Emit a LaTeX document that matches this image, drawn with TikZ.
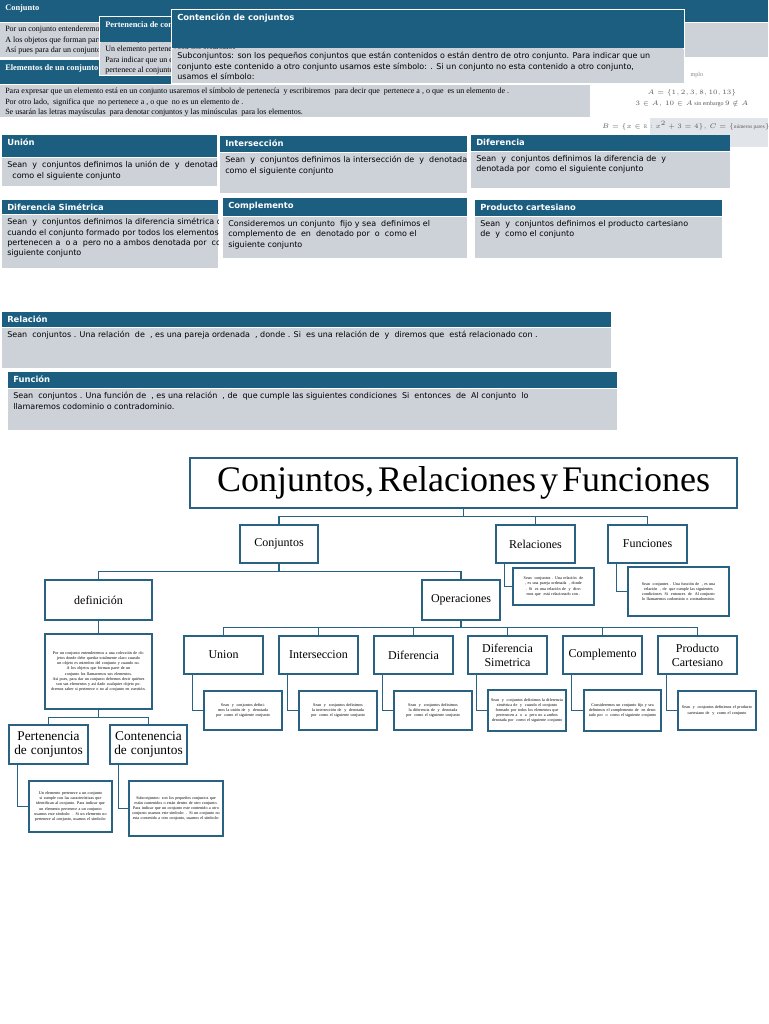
\documentclass[tikz,border=0pt]{standalone}
\usepackage{amssymb}
\usepackage{fontspec}
\setmainfont{Liberation Serif}
\newfontfamily\dv{DejaVu Sans}
\definecolor{hdr}{HTML}{1B5E80}
\definecolor{bodyc}{HTML}{CDD2D9}
\definecolor{bordc}{HTML}{2A6283}
\newcommand\panel[8]{%
 \fill[hdr] (#1,#2) rectangle (#3,#4);
 \fill[bodyc] (#1,#4+1) rectangle (#3,#5);
 \begin{scope}\clip (#1,#2) rectangle (#3,#5);
 \node[anchor=north west,text=white,inner sep=0pt,font=#8\fontsize{6.3}{8}\selectfont\bfseries] at (#1+5,#2+4) {#6};
 \node[anchor=north west,align=left,inner sep=0pt,font=#8\fontsize{6}{7.8}\selectfont] at (#1+5,#4+4) {#7};
 \end{scope}}
\newcommand\bx[7]{\pgfmathsetmacro\bw{(#4-#2)*0.75}\pgfmathsetmacro\bh{(#5-#3)*0.75}\pgfmathsetmacro\tw{(#4-#2)*0.75-4}%
 \node[#7,minimum width=\bw pt,minimum height=\bh pt,text width=\tw pt] (#1) at ({(#2+#4)/2},{(#3+#5)/2}) {#6};}
\tikzset{box/.style={draw=bordc,line width=1.1pt,fill=white,align=center,inner sep=1pt,font=\fontsize{9}{10.5}\selectfont},
 tbox/.style={box,font=\fontsize{3.1}{3.8}\selectfont},
 conn/.style={draw=bordc,line width=1pt}}
\begin{document}
\begin{tikzpicture}[x=0.75pt,y=-0.75pt]
\useasboundingbox (0,0) rectangle (768,1024);
% ---- top panels
\panel{0}{0}{768}{22}{57}{Conjunto}{Por un conjunto entenderemos a una colección de objetos donde debe quedar totalmente claro cuando un objeto es miembro del conjunto y cuando no.\\A los objetos que forman parte de un conjunto los llamaremos sus elementos.\\Así pues para dar un conjunto debemos decir quiénes son sus elementos.}{}
\panel{0}{60}{590}{84}{117}{Elementos de un conjunto}{Para expresar que un elemento está en un conjunto usaremos el símbolo de pertenecía\ \ y escribiremos\ \ para decir que\ \ pertenece a , o que\ \ es un elemento de .\\Por otro lado,\ \ significa que\ \ no pertenece a , o que\ \ no es un elemento de .\\Se usarán las letras mayúsculas\ \ para denotar conjuntos y las minúsculas\ \ para los elementos.}{}
\draw[white,line width=1pt] (100,17) rectangle (175,75);
\panel{100}{17}{175}{42}{75}{Pertenencia de conjuntos}{Un elemento pertenece a un conjunto si cumple con las características\\Para indicar que un elemento pertenece a un conjunto usamos\\pertenece al conjunto, usamos el símbolo}{}
\draw[white,line width=1.2pt] (172,10) rectangle (684,83);
\panel{172}{10}{684}{48}{83}{Contención de conjuntos}{Subconjuntos: son los pequeños conjuntos que están contenidos o están dentro de otro conjunto. Para indicar que un\\conjunto este contenido a otro conjunto usamos este símbolo: . Si un conjunto no esta contenido a otro conjunto,\\usamos el símbolo:}{\dv\fontsize{5.9}{7.8}\selectfont}
\fill[bodyc!60] (650,118) rectangle (768,147);
\node[anchor=north west,font=\fontsize{4.5}{6}\selectfont,text=gray] (ej) at (686,68) {mplo};
\node[font=\fontsize{4.5}{7}\selectfont,text=gray!70!black,align=center] (m1) at (692,98) {$A=\{1,2,3,8,10,13\}$\\[1pt] $3\in A,\ 10\in A$ sin embargo $9\notin A$};
\panel{2}{135}{217}{157}{186}{Unión}{Sean\ \ y\ \ conjuntos definimos la unión de\ \ y\ \ denotada por\\\ \ como el siguiente conjunto}{\dv\fontsize{5.6}{7.5}\selectfont}
\panel{220}{136}{467}{152}{193}{Intersección}{Sean\ \ y\ \ conjuntos definimos la intersección de\ \ y\ \ denotada por\\como el siguiente conjunto}{\dv\fontsize{5.6}{7.5}\selectfont}
\panel{471}{135}{730}{151}{188}{Diferencia}{Sean\ \ y\ \ conjuntos definimos la diferencia de\ \ y\\denotada por\ \ como el siguiente conjunto}{\dv}
\node[font=\fontsize{4}{5}\selectfont,text=gray!70!black,inner sep=0pt] (m2) at (686,126) {$B=\{x\in\mathbb{R}: x^2+3=4\},\ C=\{\mbox{números pares}\}$};
\panel{2}{200}{218}{214}{268}{Diferencia Simétrica}{Sean\ \ y\ \ conjuntos definimos la diferencia simétrica de\ \ y\\cuando el conjunto formado por todos los elementos que\\pertenecen a\ \ o a\ \ pero no a ambos denotada por\ \ como el\\siguiente conjunto}{\dv\fontsize{5.5}{7.5}\selectfont}
\panel{223}{198}{467}{216}{258}{Complemento}{Consideremos un conjunto\ \ fijo y sea\ \ definimos el\\complemento de\ \ en\ \ denotado por\ \ o\ \ como el\\siguiente conjunto}{\dv}
\panel{475}{200}{722}{216}{258}{Producto cartesiano}{Sean\ \ y\ \ conjuntos definimos el producto cartesiano\\de\ \ y\ \ como el conjunto}{\dv}
\panel{2}{312}{611}{327}{368}{Relación}{Sean\ \ conjuntos . Una relación\ \ de\ \ , es una pareja ordenada\ \ , donde . Si\ \ es una relación de\ \ y\ \ diremos que\ \ está relacionado con .}{\dv}
\panel{8}{372}{617}{388}{430}{Función}{Sean\ \ conjuntos . Una función de\ \ , es una relación\ \ , de\ \ que cumple las siguientes condiciones\ \ Si\ \ entonces\ \ de\ \ Al conjunto\ \ lo\\llamaremos codominio o contradominio.}{\dv}
% ---- concept map
\bx{title}{190}{458}{737}{508}{\fontsize{27}{30}\selectfont Conjuntos, Relaciones y Funciones}{box,line width=0.8pt}
\bx{conj}{240}{525}{318}{563}{Conjuntos}{box}
\bx{rel}{496}{525}{575}{563}{Relaciones}{box}
\bx{fun}{608}{525}{687}{563}{Funciones}{box}
\bx{defi}{45}{580}{152}{620}{definición}{box}
\bx{oper}{422}{580}{500}{620}{Operaciones}{box}
\bx{relt}{513}{568}{594}{605}{Sean\ \ conjuntos . Una relación\ \ de\ \ , es una pareja ordenada\ \ , donde . Si\ \ es una relación de\ \ y\ \ diremos que\ \ está relacionado con .}{tbox}
\bx{funt}{628}{567}{729}{616}{Sean\ \ conjuntes . Una función de\ \ , es una relación\ \ , de\ \ que cumple las siguientes condiciones\ \ Si\ \ entonces\ \ de\ \ Al conjunto lo llamaremos codominio o contradominio.}{tbox}
\bx{deft}{45}{634}{152}{709}{Por un conjunto entenderemos a una colección de objetos donde debe quedar totalmente claro cuando un objeto es miembro del conjunto y cuando no.\\A los objetos que forman parte de un conjunto los llamaremos sus elementos.\\Así pues, para dar un conjunto debemos decir quiénes son sus elementos y así dado cualquier objeto podremos saber si pertenece o no al conjunto en cuestión.}{tbox}
\bx{uni}{184}{636}{263}{674}{Union}{box}
\bx{inter}{279}{636}{358}{674}{Interseccion}{box}
\bx{dif}{374}{636}{453}{674}{Diferencia}{box}
\bx{difs}{468}{636}{547}{674}{Diferencia Simetrica}{box}
\bx{comp}{563}{636}{642}{674}{Complemento}{box}
\bx{prod}{658}{636}{737}{674}{Producto Cartesiano}{box}
\bx{unit}{204}{691}{282}{730}{Sean\ \ y\ \ conjuntos definimos la unión de\ \ y\ \ denotada por\ \ como el siguiente conjunto}{tbox}
\bx{intert}{299}{691}{377}{730}{Sean\ \ y\ \ conjuntos definimos la intersección de\ \ y\ \ denotada por\ \ como el siguiente conjunto}{tbox}
\bx{dift}{394}{691}{472}{730}{Sean\ \ y\ \ conjuntos definimos la diferencia de\ \ y\ \ denotada por\ \ como el siguiente conjunto}{tbox}
\bx{difst}{488}{690}{566}{731}{Sean\ \ y\ \ conjuntos definimos la diferencia simétrica de\ \ y\ \ cuando el conjunto formado por todos los elementos que pertenecen a\ \ o\ \ a\ \ pero no a ambos denotada por\ \ como el siguiente conjunto}{tbox}
\bx{compt}{584}{690}{661}{731}{Consideremos un conjunto fijo y sea definimos el complemento de\ \ en denotado por\ \ o\ \ como el siguiente conjunto}{tbox}
\bx{prodt}{678}{691}{756}{730}{Sean\ \ y\ \ conjuntos definimos el producto cartesiano de\ \ y\ \ como el conjunto}{tbox}
\bx{pert}{9}{725}{88}{764}{\fontsize{10}{12}\selectfont Pertenencia de conjuntos}{box}
\bx{cont}{110}{725}{187}{764}{\fontsize{10}{12}\selectfont Contenencia de conjuntos}{box}
\bx{pertt}{29}{781}{112}{832}{Un elemento pertenece a un conjunto si cumple con las características que identifican al conjunto. Para indicar que un elemento pertenece a un conjunto usamos este símbolo: . Si un elemento no pertenece al conjunto, usamos el símbolo:}{tbox}
\bx{contt}{129}{781}{223}{836}{Subconjuntos: son los pequeños conjuntos que están contenidos o están dentro de otro conjunto. Para indicar que un conjunto este contenido a otro conjunto usamos este símbolo: . Si un conjunto no esta contenido a otro conjunto, usamos el símbolo:}{tbox}
% connectors
\foreach \c in {conj,rel,fun} \draw[conn] (title.south) -- ++(0,8) -| (\c.north);
\foreach \c in {defi,oper} \draw[conn] (conj.south) -- ++(0,8) -| (\c.north);
\draw[conn] (defi.south) -- (deft.north);
\foreach \c in {uni,inter,dif,difs,comp,prod} \draw[conn] (oper.south) -- ++(0,7) -| (\c.north);
\foreach \c in {pert,cont} \draw[conn] (deft.south) -- ++(0,8) -| (\c.north);
\foreach \a/\b in {uni/unit,inter/intert,dif/dift,difs/difst,comp/compt,prod/prodt,rel/relt,fun/funt,pert/pertt,cont/contt}
  \draw[conn] (\a.south west) ++(9,0) |- (\b.west);
\end{tikzpicture}
\end{document}
